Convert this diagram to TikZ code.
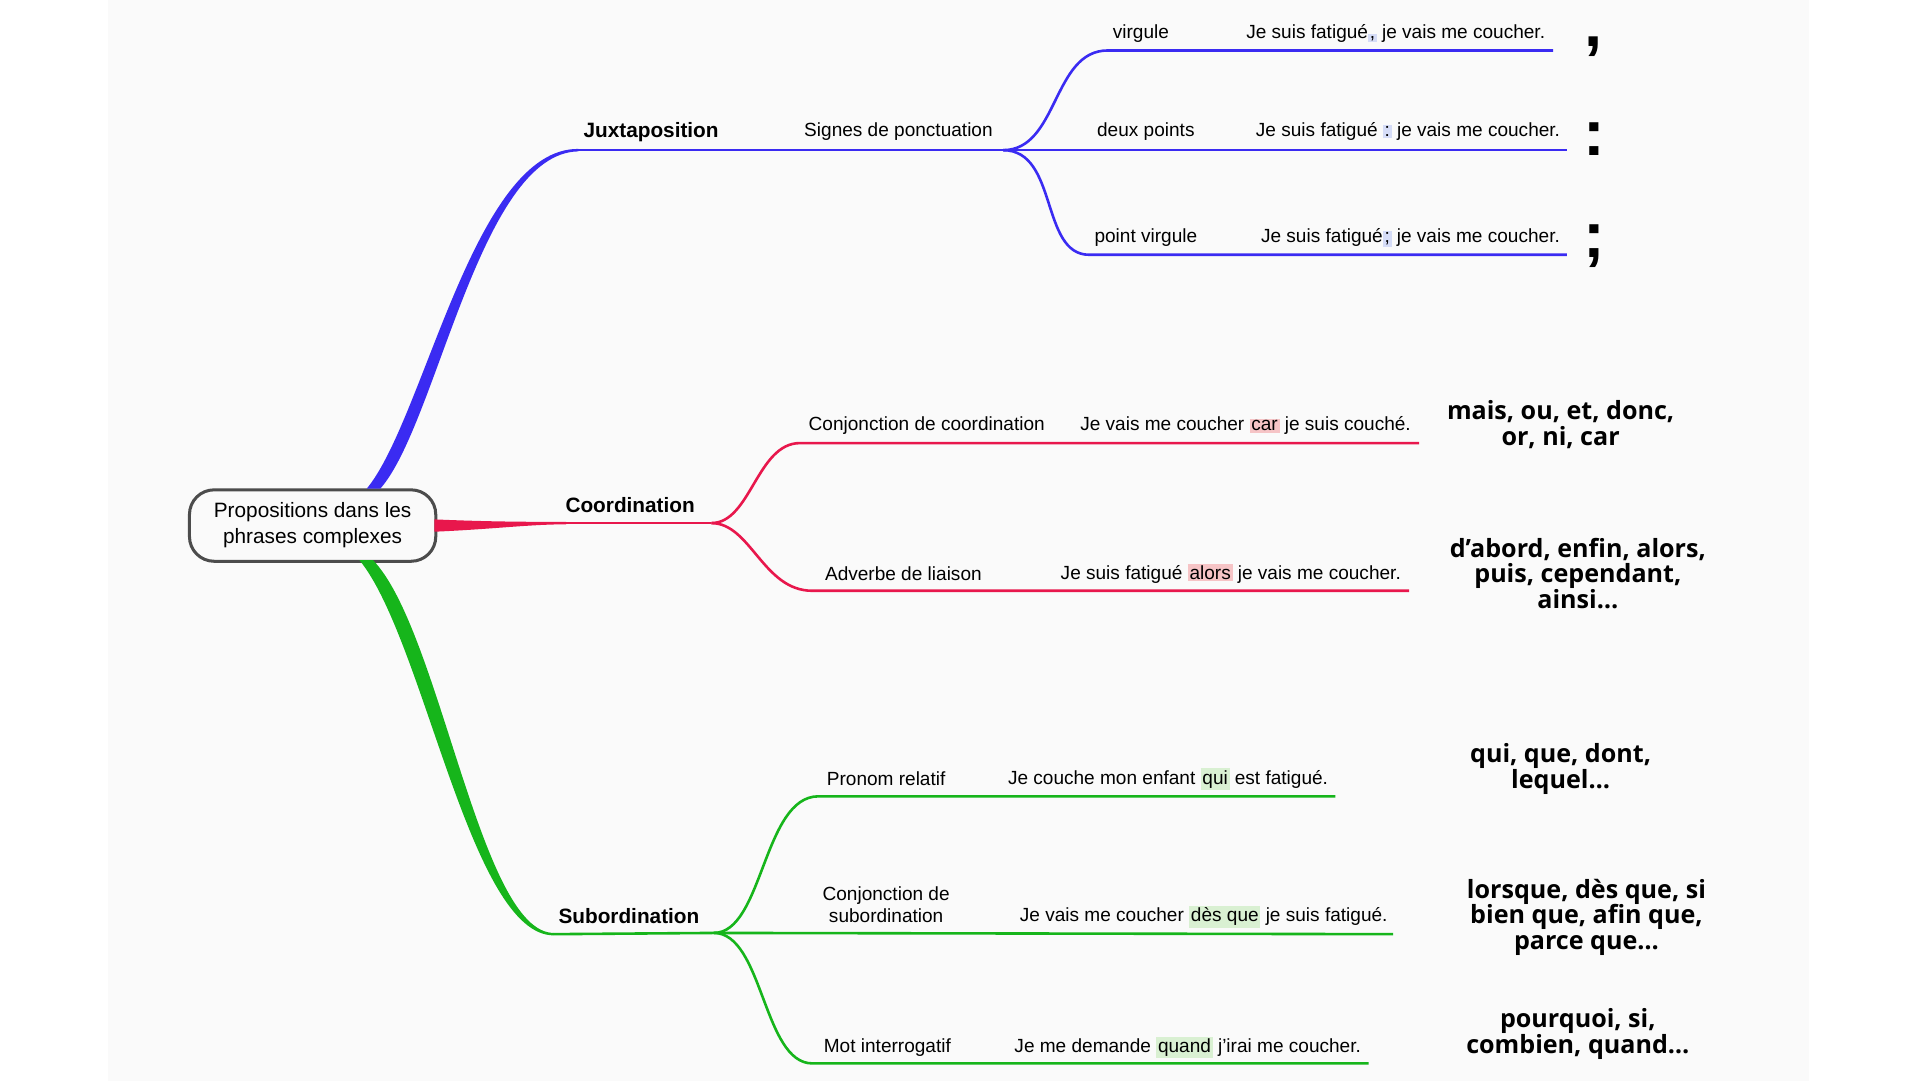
\documentclass[tikz,border=0pt]{standalone}
\usepackage{fontspec}
\setmainfont{Liberation Sans}
\newfontfamily\listfont{Open Sans}
\usetikzlibrary{positioning}
\definecolor{juxt}{HTML}{3A2BF2}
\definecolor{coord}{HTML}{E8174C}
\definecolor{subo}{HTML}{16B51B}
\definecolor{hlblue}{HTML}{D5DCF7}
\definecolor{hlred}{HTML}{F6C4C6}
\definecolor{hlgreen}{HTML}{D9F0D2}
\newcommand\hlb[1]{{\setlength{\fboxsep}{0.4pt}\colorbox{hlblue}{#1}}}
\newcommand\hlr[1]{{\setlength{\fboxsep}{0.4pt}\colorbox{hlred}{#1}}}
\newcommand\hlg[1]{{\setlength{\fboxsep}{0.4pt}\colorbox{hlgreen}{#1}}}
\tikzset{
  lab/.style={font=\fontsize{4.4}{5.2}\selectfont, inner sep=0pt, align=center},
  head/.style={font=\fontsize{4.8}{6}\selectfont\bfseries, inner sep=0pt},
  list/.style={font=\fontsize{5.8}{5.9}\listfont\bfseries, inner sep=0pt, align=center},
  punct/.style={font=\fontsize{15}{15}\selectfont\bfseries, inner sep=0pt},
  twig/.style={line width=0.6pt}
}

\begin{document}
\begin{tikzpicture}[x=0.01cm,y=-0.01cm]
   \useasboundingbox (0,0) rectangle (1560,878);
   \fill[white] (0,0) rectangle (1560,878);
   \fill[black!2] (88,0) rectangle (1470,878);
   % centre
   \node[draw=black!70, line width=0.7pt, rounded corners=0.2cm, minimum width=2cm,
         minimum height=0.58cm, lab, font=\fontsize{4.8}{6}\selectfont] (root) at (254,427)
         {Propositions dans les\\phrases complexes};
   % main branches
   \coordinate (jx) at (590,122);
   \coordinate (co) at (578,425);
   \coordinate (su) at (580,758);
   \fill[juxt] (298,397) .. controls (345,340) and (385,120) .. (470,121)
        -- (470,123) .. controls (390,124) and (355,345) .. (309,397) -- cycle;
   \draw[juxt, twig] (470,122) -- (jx);
   \fill[coord] (353,422) .. controls (400,424) and (430,424) .. (460,424)
        -- (460,426) .. controls (430,426) and (400,430) .. (353,432) -- cycle;
   \draw[coord, twig] (460,425) -- (co);
   \fill[subo] (292,455) .. controls (345,520) and (382,760) .. (450,760)
        -- (450,758) .. controls (390,758) and (358,512) .. (303,455) -- cycle;
   \draw[subo, twig] (450,759) -- (su);
   \node[head] (juxtaposition) at (529,107) {Juxtaposition};
   \node[head] (coordination) at (512,410) {Coordination};
   \node[head] (subordination) at (511,744) {Subordination};
   % juxtaposition
   \coordinate (sp) at (815,122);
   \draw[juxt, twig] (jx) -- (sp);
   \node[lab] (signes) at (730,107) {Signes de ponctuation};
   \coordinate (e1) at (1262,41);
   \coordinate (e2) at (1273,122);
   \coordinate (e3) at (1273,207);
   \draw[juxt, twig] (sp) .. controls (860,122) and (855,41) .. (900,41) -- (e1);
   \draw[juxt, twig] (sp) -- (e2);
   \draw[juxt, twig] (sp) .. controls (860,122) and (845,207) .. (885,207) -- (e3);
   \node[lab] (virgule) at (927,27) {virgule};
   \node[lab] (deuxpts) at (931,107) {deux points};
   \node[lab] (ptvirg) at (931,193) {point virgule};
   \node[lab] (ex1) at (1134,27) {Je suis fatigué\hlb{,} je vais me coucher.};
   \node[lab] (ex2) at (1144,107) {Je suis fatigué \hlb{:} je vais me coucher.};
   \node[lab] (ex3) at (1146,193) {Je suis fatigué\hlb{;} je vais me coucher.};
   \node[punct] (p1) at (1295,38) {,};
   \node[punct] (p2) at (1295,113) {:};
   \node[punct] (p3) at (1295,200) {;};
   % coordination
   \coordinate (e4) at (1153,360);
   \coordinate (e5) at (1145,480);
   \draw[coord, twig] (co) .. controls (610,425) and (615,360) .. (650,360) -- (e4);
   \draw[coord, twig] (co) .. controls (610,425) and (620,480) .. (660,480) -- (e5);
   \node[lab] (conjc) at (753,346) {Conjonction de coordination};
   \node[lab] (adv) at (734,466) {Adverbe de liaison};
   \node[lab] (ex4) at (1012,346) {Je vais me coucher \hlr{car} je suis couché.};
   \node[lab] (ex5) at (1000,466) {Je suis fatigué \hlr{alors} je vais me coucher.};
   \node[list] (l1) at (1268,345) {mais, ou, et, donc,\\or, ni, car};
   \node[list] (l2) at (1282,466) {d’abord, enfin, alors,\\puis, cependant,\\ainsi…};
   % subordination
   \coordinate (e6) at (1085,647);
   \coordinate (e7) at (1132,759);
   \coordinate (e8) at (1112,864);
   \draw[subo, twig] (su) .. controls (620,758) and (620,647) .. (665,647) -- (e6);
   \draw[subo, twig] (su) -- (e7);
   \draw[subo, twig] (su) .. controls (620,758) and (620,864) .. (660,864) -- (e8);
   \node[lab] (pron) at (720,633) {Pronom relatif};
   \node[lab] (conjs) at (720,735) {Conjonction de\\subordination};
   \node[lab] (mot) at (721,851) {Mot interrogatif};
   \node[lab] (ex6) at (949,633) {Je couche mon enfant \hlg{qui} est fatigué.};
   \node[lab] (ex7) at (978,745) {Je vais me coucher \hlg{dès que} je suis fatigué.};
   \node[lab] (ex8) at (965,851) {Je me demande \hlg{quand} j'irai me coucher.};
   \node[list] (l3) at (1268,625) {qui, que, dont,\\lequel…};
   \node[list] (l4) at (1289,745) {lorsque, dès que, si\\bien que, afin que,\\parce que…};
   \node[list] (l5) at (1282,840) {pourquoi, si,\\combien, quand…};
\end{tikzpicture}
\end{document}
